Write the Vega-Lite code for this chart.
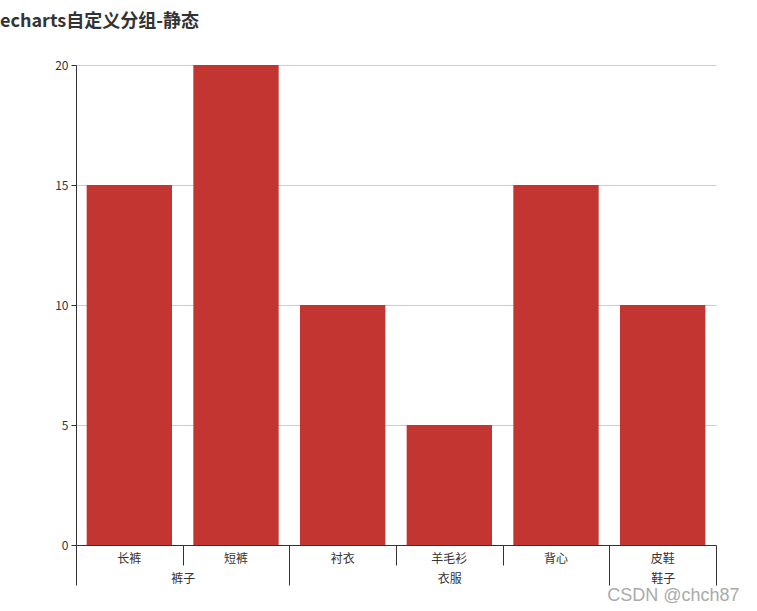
{
  "$schema": "https://vega.github.io/schema/vega-lite/v6.json",
  "autosize": "none",
  "width": 640,
  "height": 480,
  "padding": {"left": 76, "top": 65, "right": 41, "bottom": 66},
  "background": "#ffffff",
  "title": {
    "text": "echarts自定义分组-静态",
    "anchor": "start",
    "frame": "group",
    "dx": -76,
    "offset": 28,
    "fontSize": 18,
    "fontWeight": "bold",
    "color": "#333333",
    "font": "Noto Sans CJK SC"
  },
  "config": {
    "view": {"stroke": null},
    "font": "Noto Sans CJK SC",
    "axis": {"labelFont": "Noto Sans CJK SC", "labelFontSize": 12, "labelColor": "#333333", "domainColor": "#333333", "tickColor": "#333333", "title": null}
  },
  "data": {
    "values": [
      {"name": "长裤", "group": "裤子", "value": 15},
      {"name": "短裤", "group": "裤子", "value": 20},
      {"name": "衬衣", "group": "衣服", "value": 10},
      {"name": "羊毛衫", "group": "衣服", "value": 5},
      {"name": "背心", "group": "衣服", "value": 15},
      {"name": "皮鞋", "group": "鞋子", "value": 10}
    ]
  },
  "layer": [
    {
      "mark": {"type": "bar", "color": "#c23531"},
      "encoding": {
        "x": {
          "field": "name", "type": "nominal", "sort": null,
          "scale": {"paddingInner": 0.2, "paddingOuter": 0.1},
          "axis": {"orient": "bottom", "labelAngle": 0, "ticks": false, "labelPadding": 8, "domainColor": "#333333", "title": null}
        },
        "y": {
          "field": "value", "type": "quantitative",
          "scale": {"domain": [0, 20], "nice": false},
          "axis": {"values": [0, 5, 10, 15, 20], "tickSize": 5, "labelPadding": 3, "gridColor": "#cccccc", "domain": true, "title": null}
        }
      }
    },
    {
      "mark": {"type": "point", "opacity": 0},
      "encoding": {
        "x": {
          "datum": 0, "type": "quantitative",
          "scale": {"domain": [0, 6], "nice": false, "zero": false},
          "axis": {"orient": "bottom", "values": [0, 2, 5, 6], "tickSize": 40, "labels": false, "domain": false, "grid": false, "title": null}
        }
      }
    },
    {
      "mark": {"type": "point", "opacity": 0},
      "encoding": {
        "x": {
          "datum": 0, "type": "quantitative",
          "scale": {"domain": [0, 6], "nice": false, "zero": false},
          "axis": {"orient": "bottom", "values": [1, 3, 4], "tickSize": 20, "labels": false, "domain": false, "grid": false, "title": null}
        }
      }
    },
    {
      "mark": {"type": "point", "opacity": 0},
      "encoding": {
        "x": {
          "datum": 0, "type": "quantitative",
          "scale": {"domain": [0, 6], "nice": false, "zero": false},
          "axis": {"orient": "bottom", "values": [1, 3.5, 5.5], "ticks": false, "labelPadding": 28, "labelFlush": false, "domain": false, "grid": false, "title": null,
                   "labelExpr": "datum.value == 1 ? '裤子' : datum.value == 3.5 ? '衣服' : '鞋子'"}
        }
      }
    },
    {
      "mark": {"type": "point", "opacity": 0},
      "encoding": {
        "x": {
          "datum": 0, "type": "quantitative",
          "scale": {"domain": [0, 6], "nice": false, "zero": false},
          "axis": {"orient": "bottom", "values": [5.595], "ticks": false, "labelPadding": 41, "labelFlush": false, "domain": false, "grid": false, "title": null,
                   "labelFont": "Liberation Sans", "labelFontSize": 18, "labelColor": "#aaaaaa",
                   "labelExpr": "'CSDN @chch87'"}
        }
      }
    }
  ],
  "resolve": {"scale": {"x": "independent"}, "axis": {"x": "independent"}}
}
